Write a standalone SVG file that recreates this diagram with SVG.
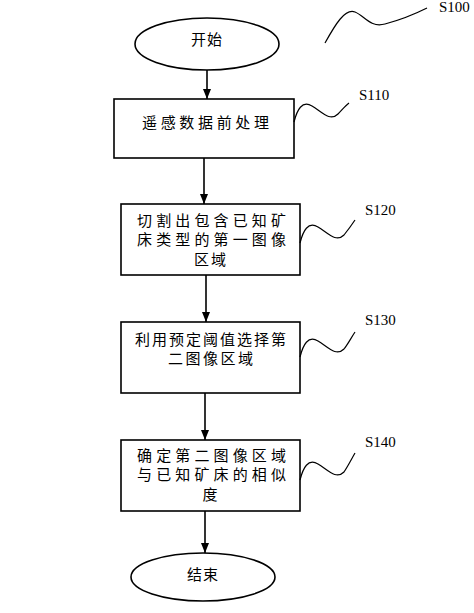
<svg xmlns="http://www.w3.org/2000/svg" width="474" height="613" viewBox="0 0 474 613">
<defs>
<marker id="ah" viewBox="0 0 10 10" refX="10" refY="5" markerWidth="10" markerHeight="8" orient="auto" markerUnits="userSpaceOnUse" preserveAspectRatio="none">
<path d="M0,0 L10,5 L0,10 Z" fill="#000"/>
</marker>
<style>
.box{fill:#fff;stroke:#000;stroke-width:1.6}
.t{font-family:"Noto Sans CJK SC","Noto Sans CJK JP",sans-serif;font-size:15px;fill:#000}
.lbl{font-family:"Liberation Serif",serif;font-size:15px;fill:#000}
.sq{fill:none;stroke:#000;stroke-width:1.2}
.con{stroke:#000;stroke-width:1.6;fill:none;marker-end:url(#ah)}
</style>
</defs>
<rect width="474" height="613" fill="#fff"/>
<g id="connectors">
<line class="con" x1="207" y1="70" x2="207" y2="99"/>
<line class="con" x1="204" y1="158" x2="204" y2="204"/>
<line class="con" x1="206" y1="275" x2="206" y2="322"/>
<line class="con" x1="205" y1="393" x2="205" y2="440"/>
<line class="con" x1="205" y1="511" x2="205" y2="553"/>
</g>
<g id="start">
<ellipse class="box" cx="207" cy="44" rx="72" ry="26"/>
<text class="t" x="207" y="45" text-anchor="middle" letter-spacing="1">开始</text>
</g>
<g id="s100">
<path class="sq" d="M325,43 C335,25 345,8 355,12 C365,16 370,28 385,24 C400,20 415,14 427,8"/>
<text class="lbl" x="439" y="12">S100</text>
</g>
<g id="s110">
<rect class="box" x="114" y="99" width="180" height="59"/>
<text class="t" x="142" y="128" textLength="127" lengthAdjust="spacing">遥感数据前处理</text>
<path class="sq" d="M294,122 C297,110 302,100 312,106 C322,112 330,122 338,114 C342,110 345,106 349,103"/>
<text class="lbl" x="359" y="100">S110</text>
</g>
<g id="s120">
<rect class="box" x="121" y="204" width="179" height="71"/>
<text class="t" x="137" y="226" textLength="149" lengthAdjust="spacing">切割出包含已知矿</text>
<text class="t" x="137" y="245" textLength="149" lengthAdjust="spacing">床类型的第一图像</text>
<text class="t" x="211" y="265" text-anchor="middle" letter-spacing="2">区域</text>
<path class="sq" d="M300,243 C303,231 308,221 318,227 C328,233 336,243 344,235 C348,230 351,226 355,220"/>
<text class="lbl" x="365" y="215">S120</text>
</g>
<g id="s130">
<rect class="box" x="121" y="322" width="179" height="71"/>
<text class="t" x="135" y="345" textLength="151" lengthAdjust="spacing">利用预定阈值选择第</text>
<text class="t" x="168" y="364" textLength="85" lengthAdjust="spacing">二图像区域</text>
<path class="sq" d="M300,357 C303,345 308,335 318,341 C328,347 336,357 344,349 C348,344 351,338 355,332"/>
<text class="lbl" x="365" y="325">S130</text>
</g>
<g id="s140">
<rect class="box" x="121" y="440" width="179" height="71"/>
<text class="t" x="137" y="461" textLength="149" lengthAdjust="spacing">确定第二图像区域</text>
<text class="t" x="137" y="480" textLength="149" lengthAdjust="spacing">与已知矿床的相似</text>
<text class="t" x="210" y="500" text-anchor="middle">度</text>
<path class="sq" d="M300,480 C303,468 308,458 318,464 C328,470 336,480 344,472 C348,466 351,460 355,453"/>
<text class="lbl" x="365" y="447">S140</text>
</g>
<g id="end">
<ellipse class="box" cx="203" cy="577" rx="72" ry="24"/>
<text class="t" x="203" y="580" text-anchor="middle" letter-spacing="1">结束</text>
</g>
</svg>
